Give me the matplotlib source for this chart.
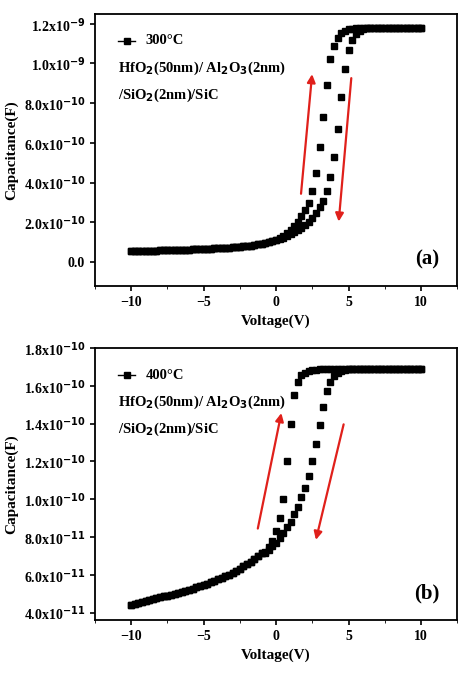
import numpy as np
import matplotlib.pyplot as plt
from matplotlib.ticker import FixedLocator

plt.rcParams['font.family'] = ['Liberation Serif', 'DejaVu Serif']
plt.rcParams['font.weight'] = 'bold'

# voltage sweep, 0.25 V steps
volt = np.arange(-10, 10.001, 0.25)

# 300 C, capacitance in units of 1e-10 F
a_low = [0.55, 0.55, 0.56, 0.56, 0.57, 0.57, 0.58, 0.58, 0.59, 0.59, 0.60, 0.60, 0.61, 0.61, 0.62, 0.62,
         0.63, 0.64, 0.64, 0.65, 0.66,
         0.67, 0.68, 0.69, 0.70, 0.71, 0.72, 0.73, 0.74, 0.76, 0.77, 0.79, 0.81, 0.83, 0.86, 0.89, 0.92,
         0.96, 1.00, 1.06, 1.12]
a_up = a_low + [1.2, 1.3, 1.45, 1.6, 1.8, 2.0, 2.3, 2.6, 3.0, 3.6, 4.5, 5.8, 7.3, 8.9, 10.2, 10.9, 11.3,
                11.55, 11.65, 11.72, 11.75, 11.77, 11.78, 11.79] + [11.8] * 16
a_dn = a_low + [1.16, 1.22, 1.3, 1.4, 1.5, 1.6, 1.72, 1.85, 2.0, 2.2, 2.45, 2.75, 3.1, 3.6, 4.3, 5.3, 6.7,
                8.3, 9.7, 10.7, 11.2, 11.5, 11.65, 11.72, 11.76, 11.78] + [11.8] * 14

# 400 C, capacitance in units of 1e-11 F
b_low = [4.4, 4.45, 4.5, 4.55, 4.6, 4.65, 4.7, 4.75, 4.8, 4.85, 4.9, 4.95, 5.0, 5.05, 5.1, 5.15, 5.2,
         5.27, 5.33, 5.39, 5.45,
         5.52, 5.59, 5.66, 5.75, 5.83, 5.92, 6.0, 6.1, 6.2, 6.32, 6.44, 6.56, 6.7, 6.85, 7.0, 7.15]
b_up = b_low + [7.2, 7.45, 7.8, 8.3] + [9.0, 10.0, 12.0, 14.0, 15.5, 16.2, 16.55, 16.7, 16.78, 16.82,
                                        16.85] + [16.88] * 29
b_dn = b_low + [7.15, 7.3, 7.5, 7.7] + [7.95, 8.2, 8.5, 8.8, 9.2, 9.6, 10.1, 10.6, 11.2, 12.0, 12.9,
                                        13.9, 14.9, 15.7, 16.2, 16.5, 16.7, 16.8, 16.85, 16.87] + [16.88] * 20

fig = plt.figure(figsize=(4.74, 6.89), dpi=100)
ax1 = fig.add_axes([0.2, 0.585, 0.765, 0.395])
ax2 = fig.add_axes([0.2, 0.1, 0.765, 0.395])


def draw(ax, up, dn, scale, temp, lab, ylim, yticks, ylabels, arrows):
    ax.plot(volt, [v * scale for v in up], 's', color='black', ms=4.5)
    ax.plot(volt, [v * scale for v in dn], 's', color='black', ms=4.5)
    ax.set_xlim(-12, 12)
    ax.set_ylim(*ylim)
    ax.xaxis.set_major_locator(FixedLocator([-10, -5, 0, 5, 10]))
    ax.set_xticks([-12.5, -7.5, -2.5, 2.5, 7.5, 12.5], minor=True)
    ax.set_yticks(yticks)
    ax.set_yticklabels(ylabels)
    ax.tick_params(labelsize=10, width=1.2)
    for s in ax.spines.values():
        s.set_linewidth(1.3)
    ax.set_xlabel('Voltage(V)', fontsize=11, fontweight='bold')
    ax.set_ylabel('Capacitance(F)', fontsize=11, fontweight='bold')
    yl = ylim[0] + (ylim[1] - ylim[0]) * 0.9
    ax.plot([-10.3], [yl], 's', color='black', ms=4.5)
    ax.plot([-10.9, -9.7], [yl, yl], color='black', lw=1)
    ax.text(-9.0, yl, temp, fontsize=10.5, va='center')
    ax.text(-10.9, ylim[0] + (ylim[1] - ylim[0]) * 0.8, 'HfO$_\\mathbf{2}$(50nm)/ Al$_\\mathbf{2}$O$_\\mathbf{3}$(2nm)',
            fontsize=10.5, va='center')
    ax.text(-10.9, ylim[0] + (ylim[1] - ylim[0]) * 0.7, '/SiO$_\\mathbf{2}$(2nm)/SiC', fontsize=10.5, va='center')
    ax.text(0.95, 0.06, lab, transform=ax.transAxes, fontsize=15, ha='right', va='bottom')
    for (x0, y0, x1, y1) in arrows:
        ax.annotate('', xy=(x1, y1), xytext=(x0, y0),
                    arrowprops=dict(arrowstyle='-|>', color='#e0201b', lw=1.6, mutation_scale=12))


draw(ax1, a_up, a_dn, 1e-10, '300°C', '(a)', (-1.2e-10, 1.25e-9),
     [0, 2e-10, 4e-10, 6e-10, 8e-10, 1e-9, 1.2e-9],
     ['0.0', '2.0x10$^{-10}$', '4.0x10$^{-10}$', '6.0x10$^{-10}$', '8.0x10$^{-10}$', '1.0x10$^{-9}$', '1.2x10$^{-9}$'],
     [(1.7, 3.3e-10, 2.5, 9.6e-10), (5.2, 9.4e-10, 4.3, 1.9e-10)])
draw(ax2, b_up, b_dn, 1e-11, '400°C', '(b)', (3.6e-11, 1.8e-10),
     [4e-11, 6e-11, 8e-11, 1e-10, 1.2e-10, 1.4e-10, 1.6e-10, 1.8e-10],
     ['4.0x10$^{-11}$', '6.0x10$^{-11}$', '8.0x10$^{-11}$', '1.0x10$^{-10}$', '1.2x10$^{-10}$',
      '1.4x10$^{-10}$', '1.6x10$^{-10}$', '1.8x10$^{-10}$'],
     [(-1.3, 8.3e-11, 0.4, 1.47e-10), (4.7, 1.41e-10, 2.7, 7.7e-11)])

fig.savefig('out.png', dpi=100)
